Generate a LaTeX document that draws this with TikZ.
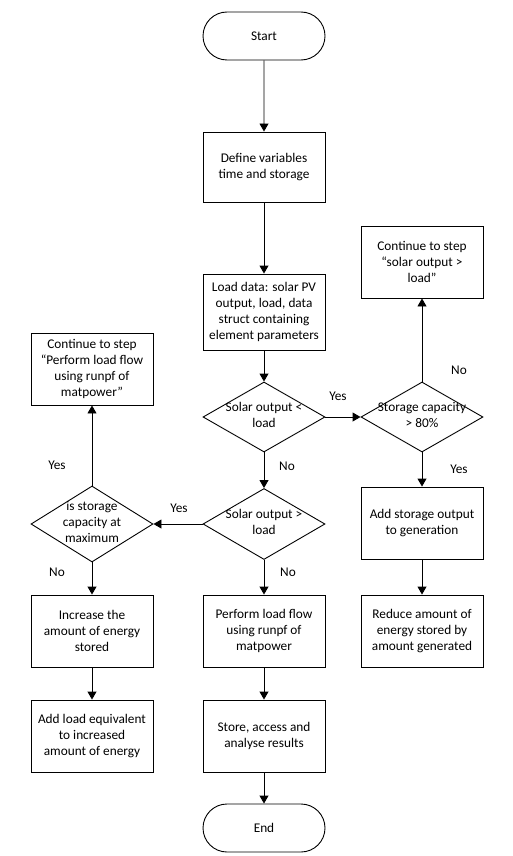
\documentclass[tikz,border=0pt]{standalone}
\usepackage{fontspec}
\setmainfont{Carlito}
\usetikzlibrary{shapes.geometric,shapes.misc,arrows.meta}
% text of a decision, kept from growing the diamond
\newcommand{\dlines}[1]{\makebox[0pt]{\smash{\raisebox{-0.25em}{\begin{tabular}{@{}c@{}}#1\end{tabular}}}}}

\begin{document}
\begin{tikzpicture}[x=1pt,y=-1pt,
  font=\fontsize{13.3}{16}\selectfont, line width=0.9pt,
  term/.style={draw, rounded rectangle, minimum width=122pt, minimum height=48pt, inner sep=0pt},
  proc/.style={draw, rectangle, align=center, minimum width=122pt, minimum height=72pt, inner sep=0pt},
  dec/.style={draw, diamond, minimum width=122pt, minimum height=71pt, inner sep=0pt},
  arr/.style={-{Triangle[length=8pt,width=9pt]}},
  lbl/.style={inner sep=0pt}]
  \useasboundingbox (0,0) rectangle (513,856);
  % main column
  \node[term] (st) at (264,36) {Start};
  \node[proc, minimum height=70pt] (def) at (264,167) {Define variables\\time and storage};
  \node[proc, minimum height=76pt] (ld) at (264,312) {Load data: solar PV\\output, load, data\\struct containing\\element parameters};
  \node[dec, minimum height=70pt] (d1) at (264,417) {\dlines{Solar output <\\load}};
  \node[dec] (d2) at (264,524) {\dlines{Solar output >\\load}};
  \node[proc] (pf) at (264,631) {Perform load flow\\using runpf of\\matpower};
  \node[proc] (sr) at (264,736) {Store, access and\\analyse results};
  \node[term] (en) at (264,828) {End};
  % right column
  \node[proc] (cr) at (422,262) {Continue to step\\“solar output >\\load”};
  \node[dec, minimum height=70pt] (sc) at (422,417) {\dlines{Storage capacity\\> 80\%}};
  \node[proc] (ad) at (422,523) {Add storage output\\to generation};
  \node[proc] (rd) at (422,631) {Reduce amount of\\energy stored by\\amount generated};
  % left column
  \node[proc] (cl) at (92,369) {Continue to step\\“Perform load flow\\using runpf of\\matpower”};
  \node[dec, minimum height=76pt] (dl) at (92,524) {\dlines{is storage\\capacity at\\maximum}};
  \node[proc] (inc) at (92,631) {Increase the\\amount of energy\\stored};
  \node[proc] (adl) at (92,736) {Add load equivalent\\to increased\\amount of energy};

  \foreach \a/\b in {st/def,def/ld,ld/d1,d1/d2,d2/pf,pf/sr,sr/en,
    d1/sc,sc/cr,sc/ad,ad/rd,d2/dl,dl/cl,dl/inc,inc/adl}
    \draw[arr] (\a) -- (\b);

  \foreach \n/\x/\y/\t in {ya/338/396/Yes,nb/459/370/No,yb/459/469/Yes,nc/287/466/No,
    yc/179/508/Yes,yd/57/465/Yes,nd/57/572/No,ne/288/572/No}
    \node[lbl] (\n) at (\x,\y) {\t};
\end{tikzpicture}
\end{document}
